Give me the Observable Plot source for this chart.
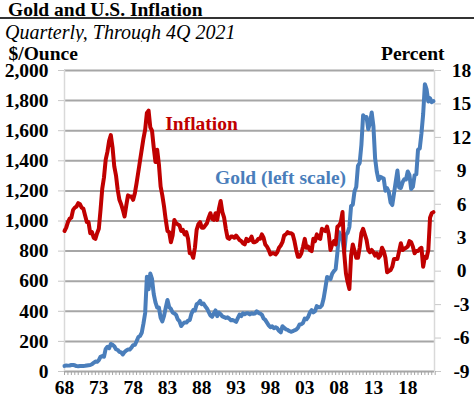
<!DOCTYPE html>
<html><head><meta charset="utf-8">
<script src="https://cdn.jsdelivr.net/npm/d3@7"></script>
<script src="https://cdn.jsdelivr.net/npm/@observablehq/plot@0.6"></script>
<style>
body{margin:0;background:#fff;font-family:"Liberation Serif",serif;color:#000;}
#wrap{position:relative;width:474px;height:402px;overflow:hidden;background:#fff;}
#title{position:absolute;left:8px;top:0;font-weight:bold;font-size:19.5px;line-height:19px;white-space:nowrap;}
#rule{position:absolute;left:0;top:17px;width:474px;height:2px;background:#333;}
#sub{position:absolute;left:5px;top:22px;font-style:italic;font-size:20px;line-height:20px;white-space:nowrap;}
#chart{position:absolute;left:0;top:42px;}
</style></head><body>
<div id="wrap">
<div id="title">Gold and U.S. Inflation</div>
<div id="rule"></div>
<div id="sub">Quarterly, Through 4Q 2021</div>
<div id="chart"></div>
</div>
<script>
const startYear = 1968;
// Gold, $/ounce, quarterly 1968Q1 .. 2021Q4
const gold = [
  37, 40, 39, 40,     43, 43, 41, 36,     35, 36, 36, 37,     38, 40, 42, 43,
  48, 58, 66, 64,     76, 98, 103, 98,    150, 164, 155, 183, 177, 168, 148, 143,
  131, 127, 113, 130, 140, 146, 146, 158, 175, 177, 201, 228, 236, 257, 318, 389,
  629, 546, 651, 615, 514, 459, 425, 426, 358, 333, 369, 424, 475, 428, 416, 392,
  386, 377, 346, 334, 302, 317, 326, 325, 338, 342, 385, 408, 405, 447, 454, 469,
  447, 452, 433, 419, 396, 373, 364, 385, 406, 368, 391, 381, 366, 361, 356, 360,
  351, 340, 342, 337, 330, 355, 378, 368, 386, 381, 387, 387, 379, 387, 384, 385,
  400, 390, 385, 378, 352, 343, 324, 307, 295, 300, 288, 294, 287, 270, 260, 301,
  290, 280, 277, 269, 264, 268, 274, 278, 290, 313, 314, 323, 352, 347, 363, 392,
  408, 393, 401, 434, 427, 427, 440, 485, 554, 628, 622, 614, 650, 667, 680, 788,
  925, 896, 872, 795, 908, 922, 960, 1100, 1109, 1197, 1227, 1367, 1386, 1506, 1702, 1688,
  1691, 1609, 1652, 1721, 1632, 1415, 1326, 1272, 1293, 1288, 1282, 1201, 1218, 1192, 1124, 1106,
  1183, 1260, 1335, 1222, 1219, 1257, 1278, 1276, 1329, 1306, 1213, 1227, 1304, 1310, 1474, 1481,
  1583, 1711, 1909, 1874, 1794, 1816, 1790, 1796
];
// Inflation, percent, quarterly 1968Q1 .. 2021Q4
const inflation = [
  3.6, 3.9, 4.4, 4.7,  4.8, 5.5, 5.7, 5.8,  6.1, 6.0, 5.7, 5.6,  5.0, 4.4, 4.4, 3.4,
  3.5, 3.0, 2.9, 3.4,  3.8, 5.5, 7.4, 8.4,  10.0, 10.7, 11.7, 12.2, 11.1, 9.4, 8.6, 7.3,
  6.4, 6.0, 5.5, 4.9,  5.9, 6.8, 6.7, 6.7,  6.4, 7.0, 7.9, 8.9,  9.9, 10.9, 11.9, 12.7,
  14.2, 14.4, 12.9, 12.6, 11.1, 9.8, 10.9, 9.6, 7.6, 6.8, 5.8, 4.6, 3.6, 3.5, 2.6, 3.2,
  4.6, 4.3, 4.2, 4.1,  3.6, 3.7, 3.3, 3.5,  2.9, 1.6, 1.6, 1.2,  2.1, 3.7, 4.2, 4.4,
  3.9, 3.9, 4.1, 4.3,  4.8, 5.2, 4.7, 4.6,  5.2, 4.6, 5.6, 6.3,  5.3, 4.8, 3.8, 3.0,
  2.9, 3.1, 3.1, 3.0,  3.2, 3.0, 2.8, 2.7,  2.5, 2.4, 2.9, 2.7,  2.8, 3.1, 2.6, 2.6,
  2.7, 2.9, 2.9, 3.3,  3.0, 2.4, 2.2, 1.9,  1.5, 1.6, 1.6, 1.5,  1.7, 2.1, 2.3, 2.6,
  3.2, 3.3, 3.5, 3.4,  3.4, 3.3, 2.7, 1.9,  1.3, 1.3, 1.6, 2.2,  2.9, 2.1, 2.2, 1.9,
  1.8, 2.9, 2.7, 3.3,  3.0, 2.9, 3.8, 3.7,  3.6, 4.0, 3.3, 1.9,  2.4, 2.7, 2.4, 4.0,
  4.1, 4.4, 5.3, 1.6,  -0.2, -1.0, -1.6, 1.4, 2.4, 1.8, 1.2, 1.2,  2.1, 3.4, 3.8, 3.3,
  2.8, 1.9, 1.7, 1.9,  1.7, 1.4, 1.6, 1.2,  1.4, 2.1, 1.8, 1.2,  -0.1, 0.0, 0.1, 0.4,
  1.1, 1.1, 1.1, 1.8,  2.5, 1.9, 2.0, 2.1,  2.2, 2.7, 2.6, 2.2,  1.6, 1.8, 1.8, 2.0,
  2.1, 0.4, 1.3, 1.2,  1.9, 4.8, 5.2, 5.3
];
const goldTicks = [0, 200, 400, 600, 800, 1000, 1200, 1400, 1600, 1800, 2000];
const pctTicks = [-9, -6, -3, 0, 3, 6, 9, 12, 15, 18];
const yearLabels = [1968, 1973, 1978, 1983, 1988, 1993, 1998, 2003, 2008, 2013, 2018];
const xDomain = [1968, 2021.9];
const goldDomain = [0, 2000];
const pctDomain = [-9, 18];

const toGold = p => goldDomain[0] + (p - pctDomain[0]) / (pctDomain[1] - pctDomain[0]) * (goldDomain[1] - goldDomain[0]);
const fromGold = g => pctDomain[0] + (g - goldDomain[0]) / (goldDomain[1] - goldDomain[0]) * (pctDomain[1] - pctDomain[0]);

const data = gold.map((g, i) => ({t: startYear + i / 4, gold: g, infl: inflation[i]}));
const halfYears = d3.range(xDomain[0], 2022.01, 0.5);

const font = {fontSize: 19.5, fontWeight: "bold"};

const chart = Plot.plot({
  width: 474,
  height: 360,
  marginTop: 28,
  marginBottom: 31,
  marginLeft: 64,
  marginRight: 40,
  style: {fontFamily: "'Liberation Serif', serif", background: "white", color: "black", overflow: "visible"},
  x: {domain: xDomain},
  y: {domain: goldDomain},
  marks: [
    Plot.ruleY(goldTicks, {stroke: "#a6a6a6", strokeWidth: 2}),
    Plot.ruleX(xDomain, {stroke: "#d9d9d9", strokeWidth: 1.5}),
    Plot.axisY({ticks: goldTicks, tickFormat: d3.format(","), tickSize: 6, tickPadding: 10,
      stroke: "#c8c8c8", fill: "black", label: null, ...font}),
    Plot.axisY({anchor: "right", ticks: pctTicks.map(toGold), tickFormat: v => String(Math.round(fromGold(v))),
      tickSize: 6, tickPadding: 21, textAnchor: "middle", stroke: "#c8c8c8", fill: "black", label: null, ...font}),
    Plot.axisX({ticks: halfYears, tickSize: 4, tickFormat: () => "", stroke: "#a6a6a6", label: null}),
    Plot.axisX({ticks: yearLabels, tickSize: 0, tickPadding: 9, tickFormat: d => String(d % 100).padStart(2, "0"),
      fill: "black", label: null, ...font}),
    Plot.line(data, {x: "t", y: "gold", stroke: "#4a7ebb", strokeWidth: 4, strokeLinejoin: "round"}),
    Plot.line(data, {x: "t", y: d => toGold(d.infl), stroke: "#c00000", strokeWidth: 4, strokeLinejoin: "round"}),
    Plot.text(["$/Ounce"], {frameAnchor: "top-left", dx: -56, dy: -11, textAnchor: "start", lineAnchor: "bottom", fill: "black", ...font}),
    Plot.text(["Percent"], {frameAnchor: "top-right", dx: 10, dy: -11, textAnchor: "end", lineAnchor: "bottom", fill: "black", ...font}),
    Plot.text(["Inflation"], {frameAnchor: "top-left", dx: 137, dy: 53, textAnchor: "middle", lineAnchor: "middle", fill: "#c00000", ...font}),
    Plot.text(["Gold (left scale)"], {frameAnchor: "top-left", dx: 216, dy: 107, textAnchor: "middle", lineAnchor: "middle", fill: "#4a7ebb", ...font})
  ]
});
document.getElementById("chart").appendChild(chart);
</script>
</body></html>
